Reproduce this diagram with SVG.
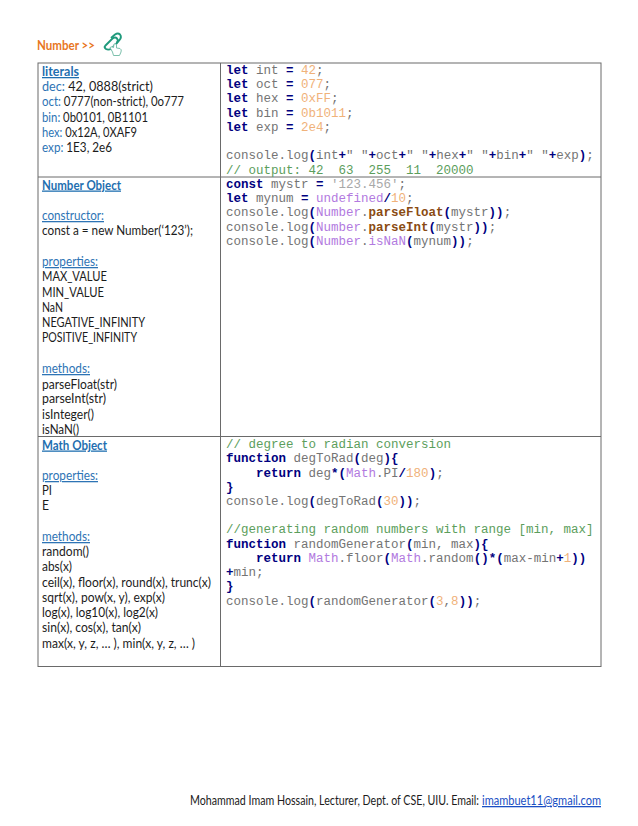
<svg xmlns="http://www.w3.org/2000/svg" width="638" height="826" viewBox="0 0 638 826">
<style>
text{font-family:"Lato","Liberation Sans",sans-serif;font-size:12.8px;fill:#1c1c1c}
.b{fill:#2e74b5}
.h{fill:#1f6fb0;font-weight:700;text-decoration:underline}
.u{fill:#2e74b5;text-decoration:underline}
.c{font-family:"Liberation Mono",monospace;font-size:12.5px;fill:#747474;white-space:pre}
.k{fill:#000080;font-weight:700}
.n{fill:#f0b27a}
.p{fill:#b27ae0}
.g{fill:#5c9e5c}
.s{fill:#a8a8a8}
.m{fill:#8a4b12;font-weight:700}
.o{fill:#000080;font-weight:700}
.l{stroke:#6a6a6a;stroke-width:1;fill:none}
</style>
<rect width="638" height="826" fill="#fff"/>
<g id="title">
<text x="37" y="50" style="fill:#e8761f;font-weight:700" textLength="58" lengthAdjust="spacingAndGlyphs">Number &gt;&gt;</text>
<g fill="none" stroke="#1f9a7c">
<path d="M105 46 L112 39 Q115 36.500 117 38.500 Q119 41 116.500 43.500 L111.500 48.500 Q108.500 50.500 106 49 Q104 47.500 105 46" stroke-width="1.900"/>
<path d="M111 38 L115 34.500 Q118 32.500 120 34.500 Q122 37 119.500 40 L117 42.500" stroke-width="1.900"/>
<path d="M112.500 52 L110 47.500 Q112 46 113.500 47.500 L114 44 Q116 43 116.500 45 L116.500 48 L120 48.500 Q122 49.500 121 52 L119.500 55.500 L113.500 55.500 Z" stroke="#7cc0ac" stroke-width="1" fill="#fff"/>
</g>
</g>
<g id="table">
<rect class="l" x="38" y="63" width="563" height="603.500"/>
<path class="l" d="M220.500 63V666.500M38 177H601M38 436.500H601"/>
</g>
<g id="row-literals">
<text class="h" x="42" y="76" textLength="37" lengthAdjust="spacingAndGlyphs">literals</text>
<text x="42" y="91" textLength="111" lengthAdjust="spacingAndGlyphs"><tspan class="b">dec:</tspan> 42, 0888(strict)</text>
<text x="42" y="106" textLength="142" lengthAdjust="spacingAndGlyphs"><tspan class="b">oct:</tspan> 0777(non-strict), 0o777</text>
<text x="42" y="122" textLength="106" lengthAdjust="spacingAndGlyphs"><tspan class="b">bin:</tspan> 0b0101, 0B1101</text>
<text x="42" y="137" textLength="95" lengthAdjust="spacingAndGlyphs"><tspan class="b">hex:</tspan> 0x12A, 0XAF9</text>
<text x="42" y="152" textLength="70" lengthAdjust="spacingAndGlyphs"><tspan class="b">exp:</tspan> 1E3, 2e6</text>
<text class="c" x="226" y="74"><tspan class="k">let</tspan> int <tspan class="o">=</tspan> <tspan class="n">42</tspan>;</text>
<text class="c" x="226" y="88.200"><tspan class="k">let</tspan> oct <tspan class="o">=</tspan> <tspan class="n">077</tspan>;</text>
<text class="c" x="226" y="102.400"><tspan class="k">let</tspan> hex <tspan class="o">=</tspan> <tspan class="n">0xFF</tspan>;</text>
<text class="c" x="226" y="116.600"><tspan class="k">let</tspan> bin <tspan class="o">=</tspan> <tspan class="n">0b1011</tspan>;</text>
<text class="c" x="226" y="131"><tspan class="k">let</tspan> exp <tspan class="o">=</tspan> <tspan class="n">2e4</tspan>;</text>
<text class="c" x="226" y="159">console.log<tspan class="o">(</tspan>int<tspan class="o">+</tspan>" "<tspan class="o">+</tspan>oct<tspan class="o">+</tspan>" "<tspan class="o">+</tspan>hex<tspan class="o">+</tspan>" "<tspan class="o">+</tspan>bin<tspan class="o">+</tspan>" "<tspan class="o">+</tspan>exp<tspan class="o">)</tspan>;</text>
<text class="c g" x="226" y="173.500">// output: 42  63  255  11  20000</text>
</g>
<g id="row-number">
<text class="h" x="42" y="189.500" textLength="79" lengthAdjust="spacingAndGlyphs">Number Object</text>
<text class="u" x="42" y="220" textLength="62" lengthAdjust="spacingAndGlyphs">constructor:</text>
<text x="42" y="235" textLength="151" lengthAdjust="spacingAndGlyphs">const a = new Number(‘123’);</text>
<text class="u" x="42" y="266" textLength="56" lengthAdjust="spacingAndGlyphs">properties:</text>
<text x="42" y="281" textLength="65" lengthAdjust="spacingAndGlyphs">MAX_VALUE</text>
<text x="42" y="297" textLength="62" lengthAdjust="spacingAndGlyphs">MIN_VALUE</text>
<text x="42" y="312" textLength="21" lengthAdjust="spacingAndGlyphs">NaN</text>
<text x="42" y="327" textLength="103" lengthAdjust="spacingAndGlyphs">NEGATIVE_INFINITY</text>
<text x="42" y="342" textLength="95" lengthAdjust="spacingAndGlyphs">POSITIVE_INFINITY</text>
<text class="u" x="42" y="373" textLength="48" lengthAdjust="spacingAndGlyphs">methods:</text>
<text x="42" y="388.500" textLength="75" lengthAdjust="spacingAndGlyphs">parseFloat(str)</text>
<text x="42" y="403" textLength="64" lengthAdjust="spacingAndGlyphs">parseInt(str)</text>
<text x="42" y="419" textLength="52" lengthAdjust="spacingAndGlyphs">isInteger()</text>
<text x="42" y="434" textLength="37" lengthAdjust="spacingAndGlyphs">isNaN()</text>
<text class="c" x="226" y="188"><tspan class="k">const</tspan> mystr <tspan class="o">=</tspan> <tspan class="s">'123.456'</tspan>;</text>
<text class="c" x="226" y="202"><tspan class="k">let</tspan> mynum <tspan class="o">=</tspan> <tspan class="p">undefined</tspan><tspan class="o">/</tspan><tspan class="n">10</tspan>;</text>
<text class="c" x="226" y="216.300">console.log<tspan class="o">(</tspan><tspan class="p">Number</tspan>.<tspan class="m">parseFloat</tspan><tspan class="o">(</tspan>mystr<tspan class="o">))</tspan>;</text>
<text class="c" x="226" y="230.500">console.log<tspan class="o">(</tspan><tspan class="p">Number</tspan>.<tspan class="m">parseInt</tspan><tspan class="o">(</tspan>mystr<tspan class="o">))</tspan>;</text>
<text class="c" x="226" y="245">console.log<tspan class="o">(</tspan><tspan class="p">Number</tspan>.<tspan class="p">isNaN</tspan><tspan class="o">(</tspan>mynum<tspan class="o">))</tspan>;</text>
</g>
<g id="row-math">
<text class="h" x="42" y="449.500" textLength="65" lengthAdjust="spacingAndGlyphs">Math Object</text>
<text class="u" x="42" y="480" textLength="56" lengthAdjust="spacingAndGlyphs">properties:</text>
<text x="42" y="495" textLength="10" lengthAdjust="spacingAndGlyphs">PI</text>
<text x="42" y="510" textLength="7" lengthAdjust="spacingAndGlyphs">E</text>
<text class="u" x="42" y="541" textLength="48" lengthAdjust="spacingAndGlyphs">methods:</text>
<text x="42" y="556" textLength="47" lengthAdjust="spacingAndGlyphs">random()</text>
<text x="42" y="571" textLength="30" lengthAdjust="spacingAndGlyphs">abs(x)</text>
<text x="42" y="587" textLength="169" lengthAdjust="spacingAndGlyphs">ceil(x), floor(x), round(x), trunc(x)</text>
<text x="42" y="602" textLength="123" lengthAdjust="spacingAndGlyphs">sqrt(x), pow(x, y), exp(x)</text>
<text x="42" y="617" textLength="116" lengthAdjust="spacingAndGlyphs">log(x), log10(x), log2(x)</text>
<text x="42" y="632" textLength="99" lengthAdjust="spacingAndGlyphs">sin(x), cos(x), tan(x)</text>
<text x="42" y="648" textLength="153" lengthAdjust="spacingAndGlyphs">max(x, y, z, … ), min(x, y, z, … )</text>
<text class="c g" x="226" y="448">// degree to radian conversion</text>
<text class="c" x="226" y="462"><tspan class="k">function</tspan> degToRad<tspan class="o">(</tspan>deg<tspan class="o">){</tspan></text>
<text class="c" x="226" y="476.500">    <tspan class="k">return</tspan> deg<tspan class="o">*(</tspan><tspan class="p">Math</tspan>.PI<tspan class="o">/</tspan><tspan class="n">180</tspan><tspan class="o">)</tspan>;</text>
<text class="c k" x="226" y="491">}</text>
<text class="c" x="226" y="505">console.log<tspan class="o">(</tspan>degToRad<tspan class="o">(</tspan><tspan class="n">30</tspan><tspan class="o">))</tspan>;</text>
<text class="c g" x="226" y="533">//generating random numbers with range [min, max]</text>
<text class="c" x="226" y="547.500"><tspan class="k">function</tspan> randomGenerator<tspan class="o">(</tspan>min, max<tspan class="o">){</tspan></text>
<text class="c" x="226" y="562">    <tspan class="k">return</tspan> <tspan class="p">Math</tspan>.floor<tspan class="o">(</tspan><tspan class="p">Math</tspan>.random<tspan class="o">()*(</tspan>max-min<tspan class="o">+</tspan><tspan class="n">1</tspan><tspan class="o">))</tspan></text>
<text class="c" x="226" y="576"><tspan class="o">+</tspan>min;</text>
<text class="c k" x="226" y="590">}</text>
<text class="c" x="226" y="604.500">console.log<tspan class="o">(</tspan>randomGenerator<tspan class="o">(</tspan><tspan class="n">3</tspan>,<tspan class="n">8</tspan><tspan class="o">))</tspan>;</text>
</g>
<g id="footer">
<text x="190" y="805" textLength="289" lengthAdjust="spacingAndGlyphs">Mohammad Imam Hossain, Lecturer, Dept. of CSE, UIU. Email:</text>
<text x="482" y="805" textLength="119" lengthAdjust="spacingAndGlyphs" style="fill:#1a4fc4;text-decoration:underline">imambuet11@gmail.com</text>
</g>
</svg>
